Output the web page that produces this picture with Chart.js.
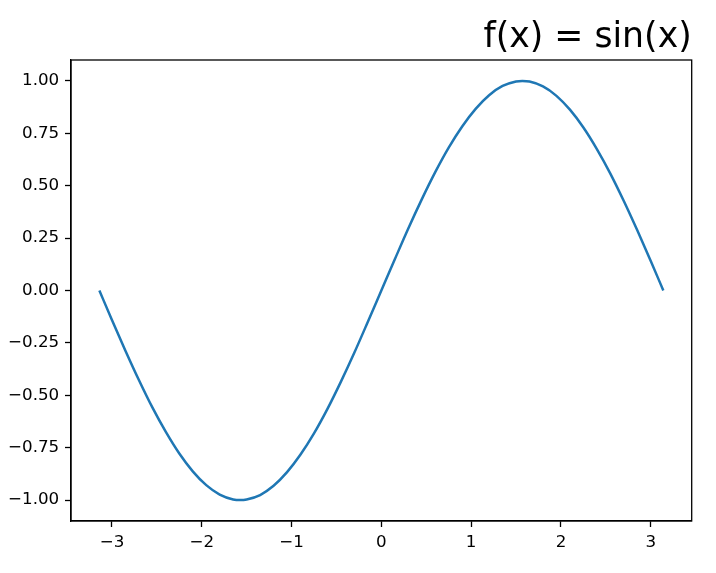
<!DOCTYPE html>
<html>
<head>
<meta charset="utf-8">
<script src="https://cdn.jsdelivr.net/npm/chart.js@4.4.0/dist/chart.umd.min.js"></script>
<style>
  html, body { margin: 0; padding: 0; background: #fff; }
  #wrap { width: 716px; height: 573px; }
</style>
</head>
<body>
<div id="wrap"><canvas id="chart" width="716" height="573"></canvas></div>
<script>
// values
const xs = [-3.14, -3.0, -2.85, -2.7, -2.55, -2.4, -2.25, -2.1, -1.95, -1.8, -1.65, -1.57, -1.5,
  -1.35, -1.2, -1.05, -0.9, -0.75, -0.6, -0.45, -0.3, -0.15, 0,
  0.15, 0.3, 0.45, 0.6, 0.75, 0.9, 1.05, 1.2, 1.35, 1.5, 1.57, 1.65, 1.8,
  1.95, 2.1, 2.25, 2.4, 2.55, 2.7, 2.85, 3.0, 3.14];
const ys = [0, -0.141, -0.287, -0.427, -0.558, -0.675, -0.778, -0.863, -0.929, -0.974, -0.997, -1.0, -0.997,
  -0.976, -0.932, -0.867, -0.783, -0.682, -0.565, -0.435, -0.296, -0.149, 0,
  0.149, 0.296, 0.435, 0.565, 0.682, 0.783, 0.867, 0.932, 0.976, 0.997, 1.0, 0.997, 0.974,
  0.929, 0.863, 0.778, 0.675, 0.558, 0.427, 0.287, 0.141, 0];

const xTicks = [-3, -2, -1, 0, 1, 2, 3];
const xTickLabels = ['\u22123', '\u22122', '\u22121', '0', '1', '2', '3'];
const yTicks = [-1, -0.75, -0.5, -0.25, 0, 0.25, 0.5, 0.75, 1];
const yTickLabels = ['\u22121.00', '\u22120.75', '\u22120.50', '\u22120.25', '0.00', '0.25', '0.50', '0.75', '1.00'];

const FONT = 'DejaVu Sans';
const tickFont = { family: FONT, size: 16.7 };

// frame round the plot area (top and right sides)
const framePlugin = {
  id: 'frame',
  afterDraw(chart) {
    const a = chart.chartArea, ctx = chart.ctx;
    ctx.save();
    ctx.strokeStyle = '#000';
    ctx.lineWidth = 1.3;
    ctx.strokeRect(a.left, a.top, a.right - a.left, a.bottom - a.top);
    ctx.restore();
  }
};

function labelFor(ticks, labels) {
  return function(v) {
    const i = ticks.findIndex(t => Math.abs(t - v) < 1e-9);
    return i >= 0 ? labels[i] : '';
  };
}

new Chart(document.getElementById('chart'), {
  type: 'scatter',
  data: {
    datasets: [{
      data: xs.map((x, i) => ({ x: x, y: ys[i] })),
      showLine: true,
      borderColor: '#1f77b4',
      borderWidth: 2.5,
      pointRadius: 0,
      cubicInterpolationMode: 'monotone'
    }]
  },
  options: {
    responsive: false,
    animation: false,
    devicePixelRatio: 1,
    layout: { padding: { right: 24.3, left: 0, top: 0, bottom: 0 } },
    plugins: {
      legend: { display: false },
      tooltip: { enabled: false },
      title: {
        display: true,
        text: 'f(x) = sin(x)',
        align: 'end',
        fullSize: false,
        color: '#000',
        font: { family: FONT, size: 34.7, weight: 'normal', lineHeight: 1.2 },
        padding: { top: 17.1, bottom: 1.26 }
      }
    },
    scales: {
      x: {
        type: 'linear',
        min: -3.456,
        max: 3.456,
        afterBuildTicks: s => { s.ticks = xTicks.map(v => ({ value: v })); },
        afterFit: s => { s.height = 52; },
        ticks: { callback: labelFor(xTicks, xTickLabels), color: '#000', font: tickFont, padding: 5.8, maxRotation: 0, autoSkip: false },
        grid: { drawOnChartArea: false, drawTicks: true, tickLength: 6, tickWidth: 1.3, tickColor: '#000' },
        border: { display: true, color: '#000', width: 1.3 }
      },
      y: {
        type: 'linear',
        min: -1.1,
        max: 1.1,
        afterBuildTicks: s => { s.ticks = yTicks.map(v => ({ value: v })); },
        afterFit: s => { s.width = 71; },
        ticks: { callback: labelFor(yTicks, yTickLabels), color: '#000', font: tickFont, padding: 5.8, autoSkip: false },
        grid: { drawOnChartArea: false, drawTicks: true, tickLength: 6, tickWidth: 1.3, tickColor: '#000' },
        border: { display: true, color: '#000', width: 1.3 }
      }
    }
  },
  plugins: [framePlugin]
});
</script>
</body>
</html>
